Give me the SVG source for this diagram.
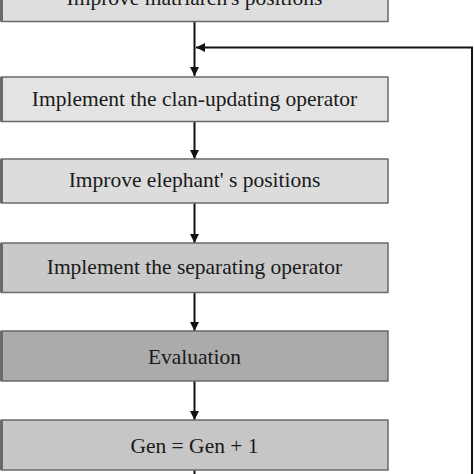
<svg xmlns="http://www.w3.org/2000/svg" width="474" height="474" viewBox="0 0 474 474">
<defs>
<marker id="ah" viewBox="0 0 10 10" refX="10" refY="5" markerWidth="9" markerHeight="9" markerUnits="userSpaceOnUse" orient="auto">
<path d="M0,0 L10,5 L0,10 z" fill="#111"/>
</marker>
<style>
.box{stroke:#6a6a6a;stroke-width:1.5}
.edge{stroke:#6a6a6a;stroke-width:3}
.lbl{font-family:"Liberation Serif","Times New Roman",serif;font-size:21.5px;fill:#1a1a1a;text-anchor:middle}
.conn{stroke:#111;stroke-width:2;fill:none}
</style>
</defs>
<rect width="474" height="474" fill="#fff"/>
<g id="connectors">
<line class="conn" x1="194.5" y1="22" x2="194.5" y2="76" marker-end="url(#ah)"/>
<polyline class="conn" points="194.5,470 194.5,474"/>
<polyline class="conn" points="472,474 472,47.5 196,47.5" marker-end="url(#ah)"/>
<line class="conn" x1="194.5" y1="122" x2="194.5" y2="159" marker-end="url(#ah)"/>
<line class="conn" x1="194.5" y1="203" x2="194.5" y2="243" marker-end="url(#ah)"/>
<line class="conn" x1="194.5" y1="293" x2="194.5" y2="331" marker-end="url(#ah)"/>
<line class="conn" x1="194.5" y1="381" x2="194.5" y2="420" marker-end="url(#ah)"/>
</g>
<g id="n1">
<rect class="box" x="1.5" y="-23" width="386.5" height="44.5" fill="#dedede"/>
<line class="edge" x1="1.5" y1="-23" x2="1.5" y2="21.5"/>
<text class="lbl" x="194.5" y="5">Improve matriarch's positions</text>
</g>
<g id="n2">
<rect class="box" x="1.5" y="77" width="386.5" height="44.5" fill="#e3e3e3"/>
<line class="edge" x1="1.5" y1="77" x2="1.5" y2="121.5"/>
<text class="lbl" x="194.5" y="105.5">Implement the clan-updating operator</text>
</g>
<g id="n3">
<rect class="box" x="1.5" y="159" width="386.5" height="44" fill="#dcdcdc"/>
<line class="edge" x1="1.5" y1="159" x2="1.5" y2="203"/>
<text class="lbl" x="194.5" y="187">Improve elephant' s positions</text>
</g>
<g id="n4">
<rect class="box" x="1.5" y="243" width="386.5" height="49.5" fill="#c9c9c9"/>
<line class="edge" x1="1.5" y1="243" x2="1.5" y2="292.5"/>
<text class="lbl" x="194.5" y="273.5">Implement the separating operator</text>
</g>
<g id="n5">
<rect class="box" x="1.5" y="331" width="386.5" height="50" fill="#ababab"/>
<line class="edge" x1="1.5" y1="331" x2="1.5" y2="381"/>
<text class="lbl" x="194.5" y="364">Evaluation</text>
</g>
<g id="n6">
<rect class="box" x="1.5" y="420" width="386.5" height="50" fill="#c6c6c6"/>
<line class="edge" x1="1.5" y1="420" x2="1.5" y2="470"/>
<text class="lbl" x="194.5" y="453">Gen = Gen + 1</text>
</g>
</svg>
